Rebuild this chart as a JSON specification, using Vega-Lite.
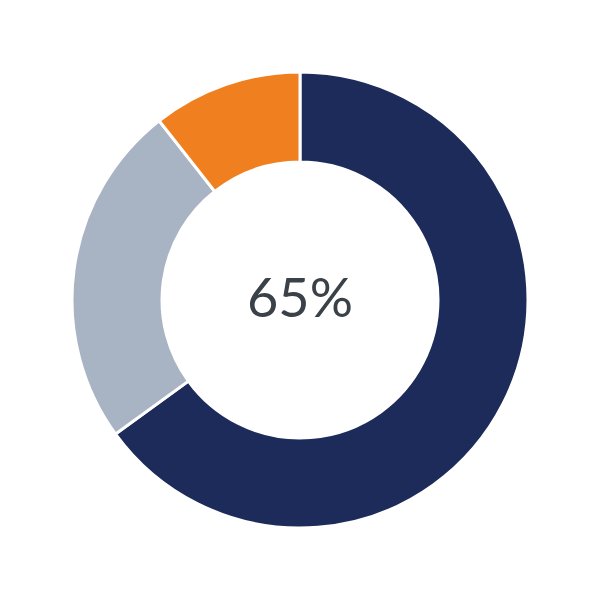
{
  "$schema": "https://vega.github.io/schema/vega-lite/v6.json",
  "autosize": {"type": "fit", "contains": "padding"},
  "width": 600,
  "height": 600,
  "data": {
    "values": [
      {"segment": "A", "share": 65, "rank": 1},
      {"segment": "B", "share": 24.4, "rank": 2},
      {"segment": "C", "share": 10.6, "rank": 3}
    ]
  },
  "layer": [
    {
      "mark": {"type": "arc", "outerRadius": 228, "innerRadius": 138, "stroke": "#ffffff", "strokeWidth": 3},
      "encoding": {
        "theta": {"field": "share", "type": "quantitative", "stack": true},
        "order": {"field": "rank", "type": "ordinal"},
        "color": {
          "field": "segment",
          "type": "nominal",
          "scale": {"domain": ["A", "B", "C"], "range": ["#1c2b5a", "#a8b3c3", "#f07f1f"]},
          "legend": null
        }
      }
    },
    {
      "data": {"values": [{"label": "65%"}]},
      "mark": {"type": "text", "font": "Lato", "fontWeight": 400, "fontSize": 54, "color": "#3a4148", "align": "center", "baseline": "middle", "dy": 1},
      "encoding": {"text": {"field": "label"}}
    }
  ],
  "config": {"view": {"stroke": null}}
}
